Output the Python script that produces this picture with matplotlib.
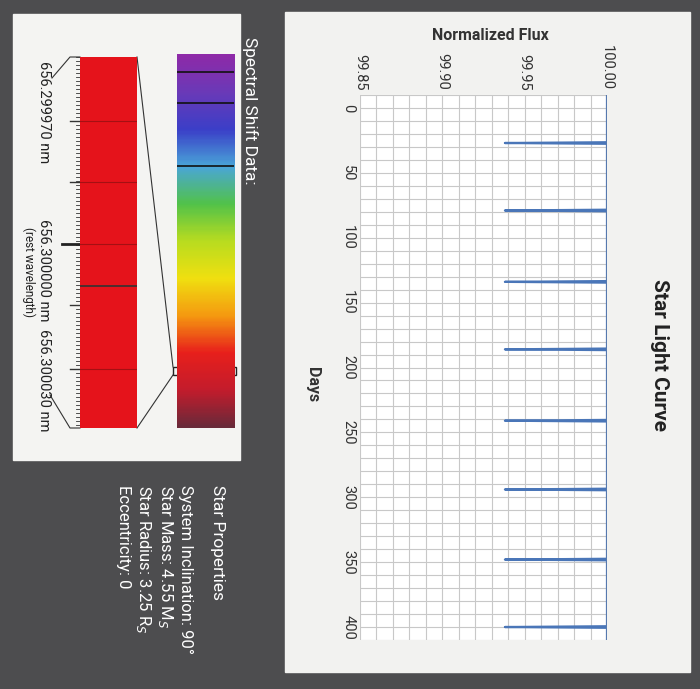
import matplotlib
matplotlib.use("Agg")
import matplotlib.pyplot as plt
import numpy as np
from matplotlib.colors import LinearSegmentedColormap
from matplotlib.patches import Rectangle

plt.rcParams['font.family'] = ['Roboto', 'DejaVu Sans']
NARROW = ['Liberation Sans Narrow', 'Roboto', 'DejaVu Sans']

W, H = 700, 689
transit_days = [27, 79, 134, 186, 241, 294, 348, 400]
transit_depth = [99.938] * 8
baseline = 100.0
flux_ticks = [99.85, 99.90, 99.95, 100.00]
day_ticks = [0, 50, 100, 150, 200, 250, 300, 350, 400]
rainbow_lines = [72, 103, 166]
red_lines = [121, 182, 244, 369]
wl_labels = ["656.299970 nm", "656.300000 nm", "656.300030 nm"]
props = ["System Inclination: 90°", "Star Mass: 4.55 M$_S$", "Star Radius: 3.25 R$_S$", "Eccentricity: 0"]

def R(x0, y0, x1, y1):
    return [x0 / W, 1 - y1 / H, (x1 - x0) / W, (y1 - y0) / H]

fig = plt.figure(figsize=(7, 6.89), dpi=100)
fig.patch.set_facecolor("#4d4d4f")
bg = fig.add_axes([0, 0, 1, 1]); bg.set_xlim(0, W); bg.set_ylim(H, 0); bg.axis("off")
bg.add_patch(Rectangle((285, 12), 405, 660, color="#f2f2f0"))
bg.add_patch(Rectangle((13, 14), 227, 446, color="#f4f4f2"))

# light curve
ax = fig.add_axes(R(360, 95, 607, 640))
xs, ys = [], []
for t, d in zip(transit_days, transit_depth):
    ys += [t - 0.6, t, t + 0.6]; xs += [baseline, d, baseline]
ys = [-10] + ys + [410]; xs = [baseline] + xs + [baseline]
ax.plot(xs, ys, color="#4a76b8", lw=1.6)
ax.set_xlim(99.85, 100.0); ax.set_ylim(410, -10)
ax.set_xticks(flux_ticks); ax.set_xticklabels([f"{v:.2f}" for v in flux_ticks], rotation=-90, fontsize=10.5, color="#333")
ax.xaxis.tick_top()
ax.set_yticks(day_ticks); ax.set_yticklabels([str(v) for v in day_ticks], rotation=-90, fontsize=10.5, color="#333", va="center")
ax.set_xticks(np.arange(99.85, 100.0001, 0.01), minor=True)
ax.set_yticks(np.arange(-10, 411, 10), minor=True)
ax.grid(True, which="both", color="#c8c8c8", lw=0.8)
ax.tick_params(which="both", length=0)
ax.set_facecolor("white")
for s in ax.spines.values(): s.set_visible(False)
ax.axvline(100.0, color="#888", lw=1)
fig.text(660 / W, 1 - 355 / H, "Star Light Curve", rotation=-90, fontsize=15, fontweight="bold", ha="center", va="center", color="#222")
fig.text(490 / W, 1 - 35 / H, "Normalized Flux", fontsize=11.5, fontweight="bold", ha="center", va="center", color="#333")
fig.text(312 / W, 1 - 385 / H, "Days", rotation=-90, fontsize=11.5, fontweight="bold", ha="center", va="center", color="#333")

# rainbow
cm = LinearSegmentedColormap.from_list("rb", ["#8e2aa8", "#6a3ab8", "#3b3fc8", "#4aa6d8", "#52c24a", "#b8dc20", "#f0e010", "#f59a10", "#e8201c", "#c41c2c", "#6a2a3a"])
a2 = fig.add_axes(R(177, 54, 234, 428)); a2.axis("off")
a2.imshow(np.linspace(0, 1, 300)[:, None], aspect="auto", cmap=cm, extent=[0, 1, 428, 54])
for p in rainbow_lines: a2.axhline(p, color="#111", lw=1.2)
a2.set_xlim(0, 1); a2.set_ylim(428, 54)
bg.add_patch(Rectangle((173, 367), 63, 8, fill=False, ec="#222", lw=1))

a3 = fig.add_axes(R(80, 57, 137, 428)); a3.set_facecolor("#e5131b")
a3.set_xlim(0, 1); a3.set_ylim(428, 57); a3.set_xticks([]); a3.set_yticks([])
for s in a3.spines.values(): s.set_visible(False)
for p in red_lines: a3.axhline(p, color="#8a1010", lw=0.8, alpha=0.7)
a3.axhline(286, color="#333", lw=1.2)
for y in np.arange(57, 428, 4): bg.plot([76, 80], [y, y], color="#333", lw=0.6)
for y in [121, 182, 305, 369]: bg.plot([70, 80], [y, y], color="#333", lw=1)
bg.plot([62, 80], [244, 244], color="#222", lw=2)
bg.plot([173, 137], [367, 57], color="#333", lw=0.8); bg.plot([173, 137], [375, 428], color="#333", lw=0.8)
bg.plot([80, 70, 52], [57, 57, 78], color="#333", lw=0.8); bg.plot([80, 70, 50], [428, 428, 395], color="#333", lw=0.8)
fig.text(44 / W, 1 - 112 / H, wl_labels[0], rotation=-90, fontsize=10.5, family=NARROW, ha="center", va="center", color="#222")
fig.text(44 / W, 1 - 270 / H, wl_labels[1], rotation=-90, fontsize=10.5, family=NARROW, ha="center", va="center", color="#222")
fig.text(29 / W, 1 - 272 / H, "(rest wavelength)", rotation=-90, fontsize=8.5, family=NARROW, ha="center", va="center", color="#222")
fig.text(44 / W, 1 - 380 / H, wl_labels[2], rotation=-90, fontsize=10.5, family=NARROW, ha="center", va="center", color="#222")
fig.text(250 / W, 1 - 37 / H, "Spectral Shift Data:", rotation=-90, fontsize=12.5, ha="center", va="top", color="white")

fig.text(218 / W, 1 - 485 / H, "Star Properties", rotation=-90, fontsize=12.5, ha="center", va="top", color="white")
for i, t in enumerate(props):
    fig.text((186 - i * 21) / W, 1 - 485 / H, t, rotation=-90, fontsize=12, ha="center", va="top", color="white")

fig.savefig("out.png", dpi=100, facecolor=fig.get_facecolor())
